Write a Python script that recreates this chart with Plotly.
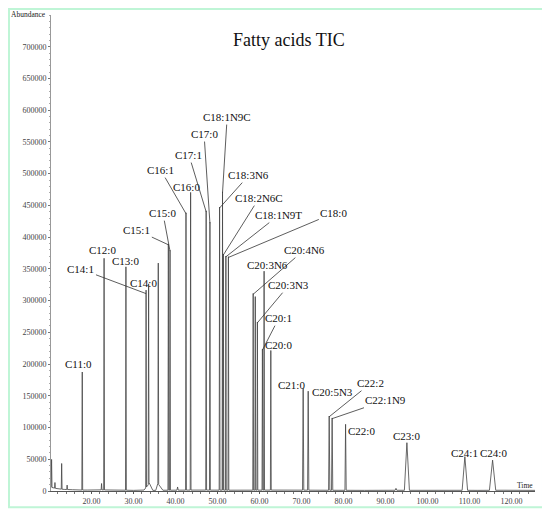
import numpy as np
import plotly.graph_objects as go

# labelled peaks: retention time (min), apex abundance, half width (min)
peak_names = ["C11:0", "C12:0", "C13:0", "C14:1", "C14:0", "C15:1", "C15:0",
              "C16:1", "C16:0", "C17:1", "C17:0", "C18:3N6", "C18:1N9C",
              "C18:2N6C", "C18:1N9T", "C18:0", "C20:4N6", "C20:3N3", "C20:1",
              "C20:3N6", "C20:0", "C21:0", "C20:5N3", "C22:2", "C22:1N9",
              "C22:0", "C23:0", "C24:1", "C24:0"]
peak_times = [17.8, 23.0, 28.2, 33.0, 33.6, 38.3, 38.7, 42.5, 43.6, 47.3, 48.2,
              50.5, 51.2, 51.4, 52.0, 52.6, 58.5, 59.5, 60.7, 61.1, 62.7, 70.4,
              71.6, 76.6, 77.3, 80.5, 95.1, 108.9, 115.5]
peak_heights = [186000, 365000, 352000, 311000, 316000, 388000, 378000, 437000,
                469000, 440000, 422000, 446000, 470000, 372000, 369000, 368000,
                310000, 265000, 222000, 345000, 220000, 160000, 156000, 117000,
                114000, 104000, 75000, 53000, 47500]
peak_widths = [0.1, 0.1, 0.1, 0.1, 0.1, 0.1, 0.1, 0.1, 0.1, 0.1, 0.1,
               0.1, 0.1, 0.1, 0.1, 0.1, 0.1, 0.1, 0.1, 0.1, 0.1, 0.15,
               0.15, 0.15, 0.15, 0.15, 0.6, 0.65, 0.75]

# unlabelled peaks
other_times = [10.5, 11.3, 12.9, 14.2, 22.4, 35.9, 40.5, 59.0, 92.5]
other_heights = [44000, 9000, 40500, 7000, 10000, 348000, 5000, 305000, 3000]
other_widths = [0.1, 0.1, 0.1, 0.1, 0.1, 0.1, 0.15, 0.1, 0.2]

# baseline level between peaks
base_t = [10.36, 11.8, 13.5, 15.5, 17.0, 19.0, 21.0, 24.0, 26.5, 30.0, 32.5,
          33.8, 34.6, 35.3, 35.8, 37.0, 45.0, 55.0, 65.0, 75.0, 85.0, 91.5,
          98.0, 105.0, 112.0, 118.0, 125.6]
base_v = [6000, 3500, 2500, 2000, 1500, 1500, 2000, 1500, 1500, 1000, 1500,
          12000, 1000, 1000, 12000, 1200, 1500, 1200, 1500, 1200, 1000, 1200,
          1000, 1200, 1000, 1200, 1000]

x_ticks = [20, 30, 40, 50, 60, 70, 80, 90, 100, 110, 120]
y_ticks = list(range(0, 700001, 50000))

all_t = np.array(peak_times + other_times, dtype=float)
all_h = np.array(peak_heights + other_heights, dtype=float)
all_w = np.array(peak_widths + other_widths, dtype=float)

# signal is piecewise linear, so evaluating at every breakpoint is exact
pts = set(base_t)
for t, w in zip(all_t, all_w):
    pts.update([t - w, t, t + w])
tt = np.array(sorted(p for p in pts if 10.36 <= p <= 125.6))
yy = np.interp(tt, base_t, base_v)
for t, h, w in zip(all_t, all_h, all_w):
    yy += h * np.clip(1 - np.abs(tt - t) / w, 0, None)

fig = go.Figure(go.Scatter(x=tt, y=yy, mode="lines",
                           line=dict(color="#444444", width=0.8),
                           hoverinfo="skip"))

# where each name is printed; True means a leader line to the apex
label_pos = {
    "C11:0": (17.0, 200000, False), "C12:0": (22.7, 379500, False),
    "C13:0": (28.2, 362000, False), "C14:1": (17.5, 349500, True),
    "C14:0": (32.3, 327500, False), "C15:1": (30.8, 411000, True),
    "C15:0": (37.0, 437800, True), "C16:1": (36.5, 505600, True),
    "C16:0": (42.7, 478800, False), "C17:1": (43.2, 529300, True),
    "C17:0": (46.8, 562400, True), "C18:1N9C": (52.3, 589200, True),
    "C18:3N6": (57.5, 497700, True), "C18:2N6C": (59.9, 461500, True),
    "C18:1N9T": (64.6, 434700, True), "C18:0": (77.7, 437800, True),
    "C20:4N6": (70.6, 379500, True), "C20:3N6": (61.8, 355800, False),
    "C20:3N3": (67.0, 324300, True), "C20:1": (64.6, 272300, True),
    "C20:0": (64.6, 229700, False), "C21:0": (67.7, 166600, False),
    "C20:5N3": (77.5, 155600, False), "C22:2": (86.5, 169800, True),
    "C22:1N9": (90.1, 143000, True), "C22:0": (84.4, 94100, False),
    "C23:0": (95.1, 86200, False), "C24:1": (108.9, 59400, False),
    "C24:0": (115.6, 59400, False),
}

serif = "Liberation Serif"
for name, t, h in zip(peak_names, peak_times, peak_heights):
    lx, ly, lead = label_pos[name]
    if lead:
        fig.add_annotation(x=t, y=h, ax=lx, ay=ly, axref="x", ayref="y",
                           text=name, showarrow=True, arrowhead=0,
                           arrowwidth=0.8, arrowcolor="#333333", standoff=0,
                           font=dict(family=serif, size=11, color="#111111"))
    else:
        fig.add_annotation(x=lx, y=ly, text=name, showarrow=False,
                           font=dict(family=serif, size=11, color="#111111"))

fig.add_annotation(x=0.492, y=0.947, xref="paper", yref="paper",
                   xanchor="center", yanchor="middle",
                   text="Fatty acids TIC", showarrow=False,
                   font=dict(family=serif, size=18, color="#111111"))
fig.add_annotation(x=-0.0475, y=1.002, xref="paper", yref="paper",
                   xanchor="center", yanchor="middle",
                   text="Abundance", showarrow=False,
                   font=dict(family=serif, size=7.5, color="#222222"))
fig.add_annotation(x=0.979, y=0.012, xref="paper", yref="paper",
                   xanchor="center", yanchor="middle",
                   text="Time", showarrow=False,
                   font=dict(family=serif, size=7.5, color="#222222"))

# light green frame round the picture
fig.add_shape(type="rect", xref="paper", yref="paper",
              x0=-0.0868, x1=1.0165, y0=-0.0343, y1=1.0126,
              line=dict(color="#bff5d6", width=2), layer="below")

fig.update_xaxes(range=[10.36, 125.6], tickvals=x_ticks,
                 ticktext=[f"{v:.2f}" for v in x_ticks], automargin=False,
                 showgrid=False, zeroline=False, showline=True,
                 linecolor="#555555", linewidth=1, ticks="outside",
                 ticklen=2, tickcolor="#555555",
                 minor=dict(dtick=2, ticks="outside", ticklen=1.5,
                            tickcolor="#777777"),
                 tickfont=dict(family=serif, size=8, color="#444444"))
fig.update_yaxes(range=[0, 750000], tickvals=y_ticks, tickformat="d",
                 automargin=False,
                 showgrid=False, zeroline=False, showline=True,
                 linecolor="#999999", linewidth=1, ticks="outside",
                 ticklen=2, tickcolor="#777777",
                 minor=dict(dtick=10000, ticks="outside", ticklen=1.5,
                            tickcolor="#aaaaaa"),
                 tickfont=dict(family=serif, size=8, color="#444444"))

# the page body adds 8px on the left and top, so the figure is that much smaller
fig.update_layout(width=542, height=505, showlegend=False,
                  margin=dict(l=43, r=15, t=7, b=22),
                  paper_bgcolor="white", plot_bgcolor="white")

fig.write_html("out.html")
